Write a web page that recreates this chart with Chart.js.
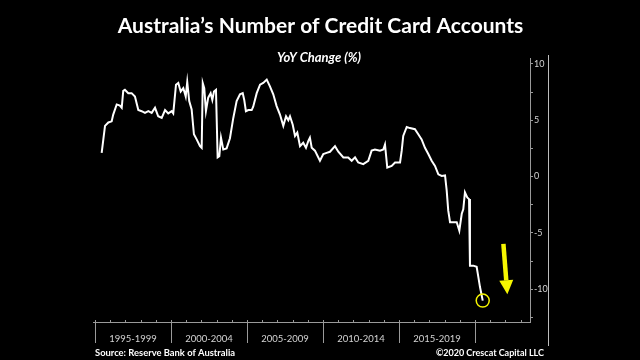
<!DOCTYPE html>
<html>
<head>
<meta charset="utf-8">
<script src="https://cdn.jsdelivr.net/npm/chart.js@4.4.0/dist/chart.umd.min.js"></script>
<style>
  html, body { margin: 0; padding: 0; background: #000; }
  #wrap { width: 640px; height: 360px; }
</style>
</head>
<body>
<div id="wrap"><canvas id="chart" width="640" height="360"></canvas></div>
<script>
// YoY change (%), x as decimal years
const years = [
  1995.44, 1995.66, 1995.88, 1996.10, 1996.20, 1996.43, 1996.64, 1996.76, 1996.86, 1996.97,
  1997.19, 1997.41, 1997.63, 1997.85, 1998.07, 1998.29, 1998.51, 1998.73, 1998.95, 1999.16,
  1999.39, 1999.61, 1999.82, 2000.05, 2000.15, 2000.33, 2000.48, 2000.64, 2000.81, 2000.97,
  2001.07, 2001.20, 2001.36, 2001.51, 2001.69, 2001.91, 2002.02, 2002.09, 2002.19, 2002.30,
  2002.45, 2002.61, 2002.72, 2002.83, 2002.96, 2003.07, 2003.18, 2003.29, 2003.44, 2003.66,
  2003.88, 2004.10, 2004.32, 2004.54, 2004.72, 2004.82, 2004.93, 2005.09, 2005.31, 2005.41,
  2005.64, 2005.86, 2006.07, 2006.30, 2006.51, 2006.73, 2006.95, 2007.17, 2007.39, 2007.57,
  2007.72, 2007.83, 2008.01, 2008.16, 2008.31, 2008.49, 2008.70, 2008.88, 2009.03, 2009.14,
  2009.26, 2009.47, 2009.80, 2010.02, 2010.24, 2010.46, 2010.79, 2011.01, 2011.34, 2011.66,
  2011.89, 2012.11, 2012.32, 2012.65, 2012.98, 2013.20, 2013.42, 2013.75, 2013.97, 2014.08,
  2014.23, 2014.52, 2014.74, 2015.07, 2015.18, 2015.28, 2015.51, 2015.72, 2016.05, 2016.27,
  2016.49, 2016.71, 2016.93, 2017.15, 2017.37, 2017.59, 2017.81, 2018.03, 2018.14, 2018.24,
  2018.36, 2018.57, 2018.80, 2018.97, 2019.13, 2019.23, 2019.34, 2019.49, 2019.61, 2019.67,
  2019.89, 2020.11, 2020.22, 2020.33, 2020.51
];
const yoy = [
  2.1, 4.5, 4.8, 4.9, 5.5, 6.4, 6.3, 6.1, 7.6, 7.7,
  7.4, 7.4, 7.1, 5.9, 5.8, 5.65, 5.8, 5.65, 6.1, 5.35,
  5.2, 5.9, 5.6, 5.8, 5.6, 8.15, 8.3, 7.55, 7.85, 7.1,
  8.4, 6.7, 5.95, 3.75, 3.3, 2.7, 2.55, 8.3, 7.85, 5.8,
  7.0, 7.4, 6.8, 7.55, 7.7, 1.7, 1.8, 3.45, 2.4, 2.5,
  3.4, 5.2, 6.7, 7.3, 7.4, 6.8, 5.8, 5.9, 5.9, 6.2,
  7.4, 8.15, 8.3, 8.6, 8.0, 7.3, 6.25, 5.5, 4.5, 5.35,
  5.0, 5.35, 4.6, 3.6, 3.9, 2.7, 3.0, 2.55, 3.15, 3.45,
  2.55, 2.3, 1.4, 2.0, 2.1, 2.2, 2.7, 2.2, 1.7, 1.7,
  1.4, 1.7, 1.25, 1.1, 1.4, 2.3, 2.4, 2.3, 2.4, 2.85,
  0.8, 0.95, 1.25, 1.25, 2.3, 3.6, 4.4, 4.3, 4.2, 3.75,
  3.3, 2.55, 2.0, 1.4, 0.95, 0.2, 0.06, 0.1, -1.25, -3.0,
  -4.05, -4.05, -4.05, -4.8, -3.3, -2.9, -1.4, -1.85, -2.0, -7.9,
  -7.9, -8.0, -8.9, -9.8, -11.0
];
const periodLabels = ["1995-1999", "2000-2004", "2005-2009", "2010-2014", "2015-2019"];
const periodCentres = [1997.5, 2002.5, 2007.5, 2012.5, 2017.5];
const periodEdges = [1995, 2000, 2005, 2010, 2015, 2020];
const yTicks = [-12.5, -10, -7.5, -5, -2.5, 0, 2.5, 5, 7.5, 10];

const axisGrey = "#9a9a9a";
const textGrey = "#d4d4d4";
const yellow = "#f5f500";

// extra drawing: period dividers, frame line, subtitle, footers, arrow
const decorations = {
  id: "decorations",
  afterDraw(chart) {
    const { ctx, chartArea, scales } = chart;
    const x = scales.x, y = scales.y;
    ctx.save();

    // small year ticks on the x axis line
    ctx.strokeStyle = axisGrey;
    ctx.lineWidth = 1;
    for (let yr = 1995; yr <= 2023; yr++) {
      const px = Math.round(x.getPixelForValue(yr)) + 0.5;
      ctx.beginPath();
      ctx.moveTo(px, chartArea.bottom - 2);
      ctx.lineTo(px, chartArea.bottom);
      ctx.stroke();
    }
    // period dividers below the axis
    periodEdges.forEach(e => {
      const px = Math.round(x.getPixelForValue(e)) + 0.5;
      ctx.beginPath();
      ctx.moveTo(px, chartArea.bottom);
      ctx.lineTo(px, chartArea.bottom + 21);
      ctx.stroke();
    });

    // thin frame line at the right
    ctx.strokeStyle = "#bdbdbd";
    ctx.beginPath();
    ctx.moveTo(548.5, 55);
    ctx.lineTo(548.5, 346);
    ctx.stroke();

    // subtitle
    ctx.fillStyle = "#ffffff";
    ctx.textAlign = "center";
    ctx.textBaseline = "middle";
    ctx.font = "italic bold 13px Lato";
    ctx.fillText("YoY Change (%)", 319, 58);

    // footers
    ctx.font = "bold 9.4px Lato";
    ctx.textAlign = "left";
    ctx.fillText("Source: Reserve Bank of Australia", 95, 353);
    ctx.textAlign = "right";
    ctx.font = "bold 9px Lato";
    ctx.fillText("\u00A92020 Crescat Capital LLC", 544, 353);

    // yellow arrow pointing down
    const x0 = x.getPixelForValue(2021.87), y0 = y.getPixelForValue(-5.97);
    const x1 = x.getPixelForValue(2022.13), y1 = y.getPixelForValue(-10.44);
    const ang = Math.atan2(y1 - y0, x1 - x0);
    const headLen = 14, headHalf = 7;
    const bx = x1 - headLen * Math.cos(ang), by = y1 - headLen * Math.sin(ang);
    ctx.strokeStyle = yellow;
    ctx.fillStyle = yellow;
    ctx.lineWidth = 4.5;
    ctx.beginPath();
    ctx.moveTo(x0, y0);
    ctx.lineTo(bx, by);
    ctx.stroke();
    ctx.beginPath();
    ctx.moveTo(x1, y1);
    ctx.lineTo(bx + headHalf * Math.sin(ang), by - headHalf * Math.cos(ang));
    ctx.lineTo(bx - headHalf * Math.sin(ang), by + headHalf * Math.cos(ang));
    ctx.closePath();
    ctx.fill();

    ctx.restore();
  }
};

const points = years.map((yr, i) => ({ x: yr, y: yoy[i] }));
const last = points.length - 1;

new Chart(document.getElementById("chart"), {
  type: "line",
  data: {
    datasets: [{
      data: points,
      borderColor: "#ffffff",
      borderWidth: 2,
      tension: 0,
      pointRadius: ctx => (ctx.dataIndex === last ? 6.5 : 0),
      pointBorderColor: yellow,
      pointBorderWidth: 1.5,
      pointBackgroundColor: "rgba(0,0,0,0)",
      pointHoverRadius: 0
    }]
  },
  options: {
    responsive: false,
    devicePixelRatio: 1,
    animation: false,
    layout: { padding: { left: 93, right: 92, top: 0, bottom: 13 } },
    plugins: {
      legend: { display: false },
      tooltip: { enabled: false },
      title: {
        display: true,
        text: "Australia\u2019s Number of Credit Card Accounts",
        color: "#ffffff",
        font: { family: "Lato", size: 21, weight: "bold" },
        padding: { top: 14, bottom: 19 }
      }
    },
    scales: {
      x: {
        type: "linear",
        min: 1994.87,
        max: 2023.62,
        grid: { display: false, drawTicks: false },
        border: { display: true, color: axisGrey },
        afterBuildTicks: s => { s.ticks = periodCentres.map(v => ({ value: v })); },
        afterFit: s => { s.height = 25; },
        ticks: {
          autoSkip: false,
          maxRotation: 0,
          padding: 11,
          color: textGrey,
          font: { family: "Lato", size: 9.5 },
          callback: v => periodLabels[periodCentres.indexOf(v)] || ""
        }
      },
      y: {
        position: "right",
        min: -12.9,
        max: 10.5,
        grid: { display: true, drawOnChartArea: false, tickLength: 3, color: axisGrey },
        border: { display: true, color: axisGrey },
        afterBuildTicks: s => { s.ticks = yTicks.map(v => ({ value: v })); },
        afterFit: s => { s.width = 18; },
        ticks: {
          padding: 1,
          color: textGrey,
          font: { family: "Lato", size: 9 },
          callback: v => (v % 5 === 0 ? String(v) : "")
        }
      }
    }
  },
  plugins: [decorations]
});
</script>
</body>
</html>
